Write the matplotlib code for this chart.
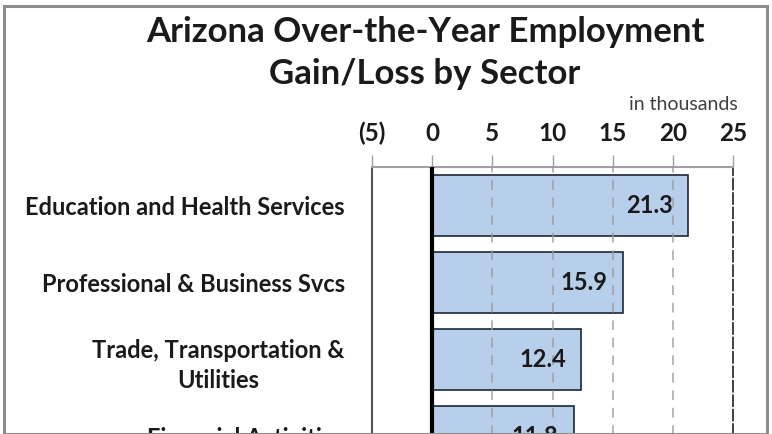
import matplotlib
matplotlib.use("Agg")
import matplotlib.pyplot as plt
from matplotlib.patches import Rectangle

categories = ["Education and Health Services", "Professional & Business Svcs",
              "Trade, Transportation &\nUtilities", "Financial Activities"]
values = [21.3, 15.9, 12.4, 11.8]
value_labels = ["21.3", "15.9", "12.4", "11.8"]
xticks = [-5, 0, 5, 10, 15, 20, 25]
xtick_labels = ["(5)", "0", "5", "10", "15", "20", "25"]

plt.rcParams['font.family'] = ['Lato', 'DejaVu Sans']

W, H = 772, 434
fig = plt.figure(figsize=(W / 100, H / 100), dpi=100)

# outer frame
fig.patches.append(Rectangle((4 / W, 0), (W - 9) / W, (H - 6) / H, transform=fig.transFigure,
                             fill=False, edgecolor="#8c8c8c", linewidth=2.2))

pitch = 77
n = len(categories)
left, right_px, top_px = 372, 733, 167
ax = fig.add_axes([left / W, (H - top_px - n * pitch) / H, (right_px - left) / W, n * pitch / H])

y = list(range(n))
ax.barh(y, values, height=0.78, color="#b7cfea", edgecolor="#1c2838", linewidth=1.2, zorder=2)
ax.set_ylim(n - 0.5, -0.5)
ax.set_xlim(-5, 25)

for xv in [5, 10, 15, 20]:
    ax.axvline(xv, color="#9a9a9a", linestyle=(0, (5, 4)), linewidth=1.4, alpha=0.7, zorder=3)
ax.axvline(0, color="black", linewidth=3, zorder=4)

for yi, v, lab in zip(y, values, value_labels):
    ax.text(v - 1.3, yi, lab, ha="right", va="center", fontsize=17, fontweight="bold",
            color="#1a1a1a", zorder=5)

ax.set_yticks(y)
ax.set_yticklabels(categories, fontsize=17, fontweight="bold", color="#1a1a1a",
                   multialignment="center", linespacing=1.4)
ax.tick_params(axis="y", length=0, pad=19.5)

ax.xaxis.tick_top()
ax.set_xticks(xticks)
ax.set_xticklabels(xtick_labels, fontsize=17.5, fontweight="bold", color="#1a1a1a")
ax.tick_params(axis="x", length=9, width=1, color="#a0a0a0", pad=7, direction="out")

ax.spines["top"].set_color("#a0a0a0")
ax.spines["top"].set_linewidth(1.5)
ax.spines["left"].set_color("#555555")
ax.spines["left"].set_linewidth(1.5)
ax.spines["right"].set_color("#333333")
ax.spines["right"].set_linestyle((0, (6, 2)))
ax.spines["right"].set_linewidth(1.3)
ax.spines["bottom"].set_visible(False)

fig.text(425 / W, 1 - 32 / H, "Arizona Over-the-Year Employment", ha="center", va="center",
         fontsize=25, fontweight="bold", color="#1a1a1a")
fig.text(425 / W, 1 - 74 / H, "Gain/Loss by Sector", ha="center", va="center",
         fontsize=25, fontweight="bold", color="#1a1a1a")
fig.text(738 / W, 1 - 105 / H, "in thousands", ha="right", va="center",
         fontsize=14, color="#404040")

fig.savefig("out.png", dpi=100)
